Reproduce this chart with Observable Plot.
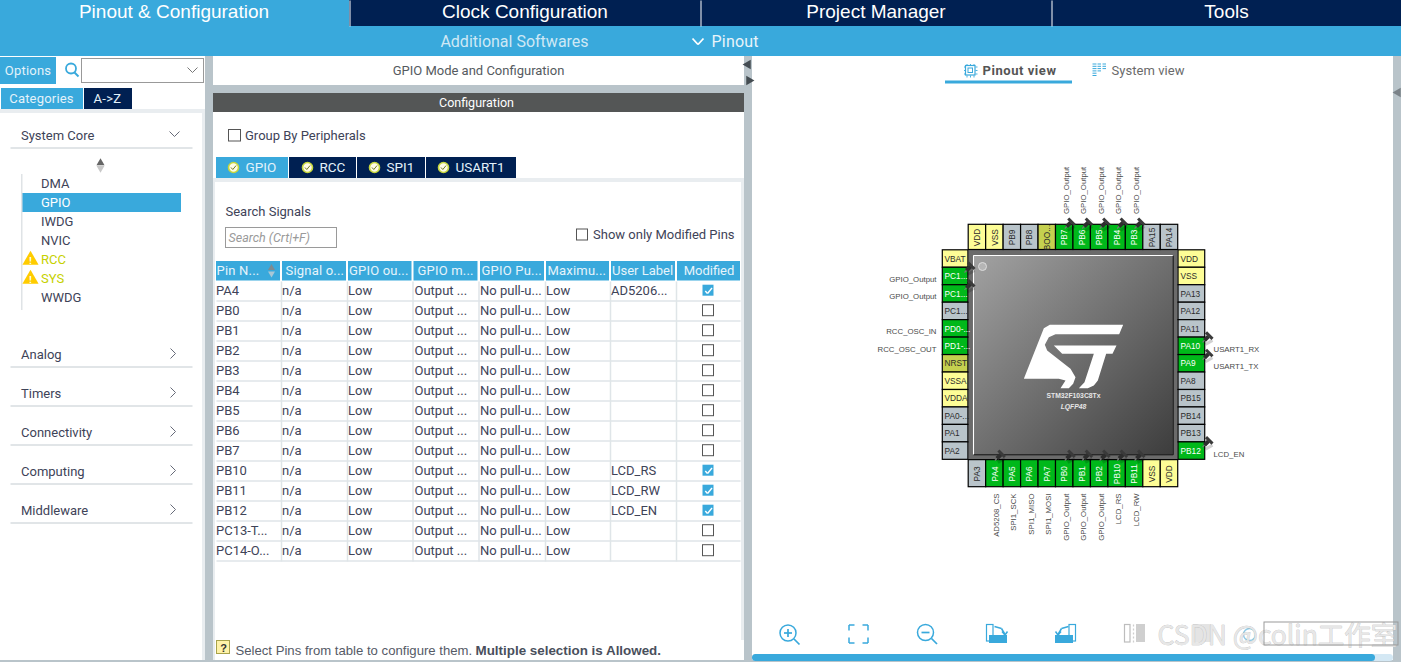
<!DOCTYPE html>
<html><head><meta charset="utf-8">
<script src="https://cdn.jsdelivr.net/npm/d3@7"></script>
<script src="https://cdn.jsdelivr.net/npm/@observablehq/plot@0.6"></script>
<style>html,body{margin:0;padding:0;background:#b9c4ca;overflow:hidden}svg{display:block}</style>
</head><body><div id="app"></div>
<script>
// ---------- content ----------
const navTabs = ["Pinout & Configuration","Clock Configuration","Project Manager","Tools"];
const subTabs = ["Additional Softwares","Pinout"];
const peripheralTabs = ["GPIO","RCC","SPI1","USART1"];
const systemCore = ["DMA","GPIO","IWDG","NVIC","RCC","SYS","WWDG"];
const menuGroups = ["Analog","Timers","Connectivity","Computing","Middleware"];
const tableHeaders = ["Pin N...","Signal o...","GPIO ou...","GPIO m...","GPIO Pu...","Maximu...","User Label","Modified"];
const pinNames = ["PA4","PB0","PB1","PB2","PB3","PB4","PB5","PB6","PB7","PB10","PB11","PB12","PC13-T...","PC14-O..."];
const signalOn = "n/a", outLevel = "Low", outMode = "Output ...", pull = "No pull-u...", speed = "Low";
const userLabels = ["AD5206...","","","","","","","","","LCD_RS","LCD_RW","LCD_EN","",""];
const modified = [1,0,0,0,0,0,0,0,0,1,1,1,0,0];
const topPins = ["VDD","VSS","PB9","PB8","BOO...","PB7","PB6","PB5","PB4","PB3","PA15","PA14"];
const topKinds = "yyggoGGGGGgg";
const topSignals = ["","","","","","GPIO_Output","GPIO_Output","GPIO_Output","GPIO_Output","GPIO_Output","",""];
const leftPins = ["VBAT","PC1...","PC1...","PC1...","PD0-...","PD1-...","NRST","VSSA","VDDA","PA0-...","PA1","PA2"];
const leftKinds = "yGGgGGoyyggg";
const leftSignals = ["","GPIO_Output","GPIO_Output","","RCC_OSC_IN","RCC_OSC_OUT","","","","","",""];
const rightPins = ["VDD","VSS","PA13","PA12","PA11","PA10","PA9","PA8","PB15","PB14","PB13","PB12"];
const rightKinds = "yygggGGggggG";
const rightSignals = ["","","","","","USART1_RX","USART1_TX","","","","","LCD_EN"];
const bottomPins = ["PA3","PA4","PA5","PA6","PA7","PB0","PB1","PB2","PB10","PB11","VSS","VDD"];
const bottomKinds = "gGGGGGGGGGyy";
const bottomSignals = ["","AD5208_CS","SPI1_SCK","SPI1_MISO","SPI1_MOSI","GPIO_Output","GPIO_Output","GPIO_Output","LCD_RS","LCD_RW","",""];
const pinnedTop = [5,6,7,8,9], pinnedLeft = [1,2], pinnedRight = [5,6,11], pinnedBottom = [1,5,6,7,8,9];
const logoS = [[118,28],[338,28],[326,56],[135,56],[115,65],[103,88],[110,105],[180,160],[195,185],[188,205],[175,218],[150,218],[165,195],[145,190],[40,190],[100,38]];
const logoT = [[130,90],[318,90],[306,115],[287,115],[262,195],[250,210],[232,218],[205,218],[222,200],[250,115],[155,115]];

// ---------- style ----------
const BLUE="#39a9dc", NAVY="#002052", GREY="#b9c4ca", PALE="#e9edf0", INK="#3e4358", RULE="#c3cbd0";
const UI="Roboto, sans-serif", ARIAL="'Liberation Sans', sans-serif";
const kindFill={y:"#fdfd96",g:"#b9c4ca",o:"#c5d04f",G:"#00b81a"};

// ---------- helpers ----------
const R=(rows,o={})=>Plot.rect(rows,{x1:d=>d[0],y1:d=>d[1],x2:d=>d[2],y2:d=>d[3],fill:d=>d[4],...o});
const spaced=px=>(i,s,v,dim,c,next)=>{const g=next(i,s,v,dim,c);g.style.letterSpacing=px+"px";return g;};
const T=(rows,o={})=>{const {spacing,...rest}=o;return Plot.text(rows,{x:d=>d[1],y:d=>d[2],text:d=>d[0],fontFamily:UI,fontSize:13,fill:INK,textAnchor:"start",...(spacing?{render:spaced(spacing)}:{}),...rest});};
const L=(rows,o={})=>Plot.link(rows,{x1:d=>d[0],y1:d=>d[1],x2:d=>d[2],y2:d=>d[3],stroke:BLUE,strokeWidth:1.3,...o});
const D=(rows,o={})=>Plot.dot(rows,{x:d=>d[0],y:d=>d[1],...o});

const marks=[];
// ---------- panels ----------
marks.push(R([
 [0,0,1401,662,GREY],
 [0,0,1401,56,BLUE],
 [349,0,1401,26,NAVY],
 [0,56,205,113,"#ffffff"],
 [0,109,205,113,PALE],
 [0,113,202,660,"#ffffff"],
 [202,113,205,660,PALE],
 [213,56,744,85,"#ffffff"],
 [213,93,744,112,"#545656"],
 [213,112,744,660,"#ffffff"],
 [213,178,744,182,PALE],
 [213,182,215,660,PALE],
 [741,182,744,640,PALE],
 [752,56,1393,660,"#ffffff"],
 [0,57,56,84,BLUE],
 [1,88,83,109,BLUE],
 [84,88,132,109,NAVY],
 [22,193,181,212,BLUE],
 [216,157,288,178,BLUE],
 [289,157,356,178,NAVY],
 [357,157,425,178,NAVY],
 [426,157,516,178,NAVY],
 [945,80.5,1072,83.5,BLUE],
 [21,174,22.5,310,"#dfe3e6"]
]));
marks.push(L([[349.5,0,349.5,26],[700.5,0,700.5,26],[1051.5,0,1051.5,26]],{stroke:"#ffffff",strokeWidth:1}));
marks.push(T(navTabs.map((t,i)=>[t,[173.5,524.5,875.5,1226][i],11.5]),{fontFamily:ARIAL,fontSize:19,fill:"#ffffff",textAnchor:"middle"}));
marks.push(T([[subTabs[0],514,41]],{fontSize:16,fill:"#cfe8f5",textAnchor:"middle"}));
marks.push(T([[subTabs[1],711,41]],{fontSize:16,fill:"#e8f4fa",spacing:0.2}));
marks.push(L([[692,38,697.5,44],[697.5,44,703,38]],{stroke:"#ffffff",strokeWidth:1.8}));

// left panel header
marks.push(T([["Options",27.5,70.5]],{fontSize:13,fill:"#e3f2fa",textAnchor:"middle",spacing:0.2}));
marks.push(T([["Categories",41,98.5]],{fontSize:13,fill:"#e3f2fa",textAnchor:"middle",spacing:0.2}));
marks.push(T([["A->Z",107,98.5]],{fontSize:13,fill:"#e3f2fa",textAnchor:"middle",spacing:0.3}));
marks.push(D([[70.5,68]],{r:5,stroke:BLUE,strokeWidth:1.8,fill:"none"}));
marks.push(L([[74,72,78,76]],{strokeWidth:2}));
marks.push(R([[81.5,58.5,203.5,82.5,"#ffffff"]],{stroke:"#999999",strokeWidth:1}));
marks.push(L([[187,67,192,72],[192,72,197,67]],{stroke:"#777777",strokeWidth:1}));

// system-core tree
marks.push(T([["System Core",20.5,135]]));
marks.push(L([[10,147.5,192,147.5]],{stroke:RULE,strokeWidth:1}));
marks.push(L([[169,131,174,136],[174,136,179,131]],{stroke:"#666a78",strokeWidth:1}));
marks.push(D([[100,162.5]],{symbol:"triangle",r:3,fill:"#666666"}));
marks.push(D([[100,167.5]],{symbol:"triangle",r:3,fill:"#c8c8c8",rotate:180}));
marks.push(T(systemCore.map((t,i)=>[t,40.5,183+i*19]),{
  fill:d=>d[0]==="GPIO"?"#ffffff":(d[0]==="RCC"||d[0]==="SYS")?"#c6d100":INK}));
marks.push(D([[30,259.5],[30,278.5]],{symbol:"triangle",r:6,fill:"#ffcc00"}));
marks.push(T([["!",30,260.5],["!",30,279.5]],{fontSize:9,fontWeight:700,fill:"#ffffff",textAnchor:"middle"}));
menuGroups.forEach((g,i)=>{
  const y=354+i*39;
  marks.push(T([[g,20.5,y]]));
  marks.push(L([[10,y+12.5,192,y+12.5]],{stroke:RULE,strokeWidth:1}));
  marks.push(L([[170,y-6,175,y-1],[175,y-1,170,y+4]],{stroke:"#666a78",strokeWidth:1}));
});

// centre panel header
marks.push(T([["GPIO Mode and Configuration",478,70.5]],{fontSize:13,fill:"#555a60",textAnchor:"middle"}));
marks.push(T([["Configuration",476,102.5]],{fontSize:12.5,fill:"#ffffff",textAnchor:"middle"}));
marks.push(R([[228.5,129.5,240.5,141,"#ffffff"],[576.5,229,587.5,240,"#ffffff"]],{stroke:"#555555",strokeWidth:1}));
marks.push(T([["Group By Peripherals",244.5,135.5],["Search Signals",225,211.5],["Show only Modified Pins",592.5,234.5]],{fontSize:13}));
marks.push(R([[225.5,227.5,336.5,247.5,"#ffffff"]],{stroke:"#9a9a9a",strokeWidth:1}));
marks.push(T([["Search (Crt|+F)",228,237.5]],{fontSize:12.5,fontStyle:"italic",fill:"#9a9a9a"}));
marks.push(T(peripheralTabs.map((t,i)=>[t,[245,319,386,455][i],167.5]),{fontSize:13.5,fill:"#e3f2fa"}));
const tabIcons=[233,307,374,443];
marks.push(D(tabIcons.map(x=>[x,167]),{r:5,fill:"#fffbe6",stroke:"#c6d63c",strokeWidth:1.6}));
marks.push(L(tabIcons.flatMap(x=>[[x-2.5,167,x-0.7,169],[x-0.7,169,x+2.6,165]]),{stroke:"#6f7a20",strokeWidth:1}));

// ---------- table ----------
const colX=[[216,280],[282,346],[348,411.5],[413.5,477.5],[480,544],[546,609],[611,675],[677,740]];
const headY=[261,280.5], rowH=20, rowTop=281;
marks.push(R(colX.map(c=>[c[0],headY[0],c[1],headY[1],BLUE])));
marks.push(L(pinNames.map((_,i)=>[216,rowTop+(i+1)*rowH-0.5,740,rowTop+(i+1)*rowH-0.5]),{stroke:"#dfe5e8",strokeWidth:1.3}));
marks.push(L(colX.slice(0,7).map(c=>[c[1]+1,rowTop,c[1]+1,rowTop+pinNames.length*rowH]),{stroke:"#dfe5e8",strokeWidth:1.5}));
const headX=[216,285,348.5,417,481,547,611.5,708.5];
marks.push(T(tableHeaders.slice(0,6).map((t,i)=>[t,headX[i],270.5]),{fontSize:13,fill:"#e6f4fb",spacing:0.2}));
marks.push(T([[tableHeaders[6],headX[6],270.5]],{fontSize:13,fill:"#e6f4fb"}));
marks.push(T([[tableHeaders[7],headX[7],270.5]],{fontSize:13,fill:"#e6f4fb",textAnchor:"middle"}));
marks.push(D([[271,267.5]],{symbol:"triangle",r:2.6,fill:"#7d8a90"}));
marks.push(D([[271,273]],{symbol:"triangle",r:2.6,fill:"#a9c7d6",rotate:180}));
const cellX=[215.5,281.5,347.5,414,479.5,545.5,610.5];
const rowCols=pinNames.map((p,i)=>[p,signalOn,outLevel,outMode,pull,speed,userLabels[i]]);
marks.push(T(rowCols.flatMap((cols,i)=>cols.map((t,c)=>[t,cellX[c],rowTop+9.5+i*rowH])),{fontSize:13}));
const boxCells=modified.map((m,i)=>[702.5,rowTop+3.7+i*rowH,713.5,rowTop+14.7+i*rowH,m?BLUE:"#ffffff"]);
marks.push(R(boxCells.filter((_,i)=>!modified[i]),{stroke:"#555555",strokeWidth:1}));
marks.push(R(boxCells.filter((_,i)=>modified[i])));
marks.push(L(modified.flatMap((m,i)=>m?[[704.8,rowTop+9.5+i*rowH,707,rowTop+12+i*rowH],[707,rowTop+12+i*rowH,711.5,rowTop+6.5+i*rowH]]:[]),{stroke:"#ffffff",strokeWidth:1.4}));

// footer hint
marks.push(R([[216.5,640.5,229.5,653.5,"#fff2a8"]],{stroke:"#a8a24a",strokeWidth:1}));
marks.push(T([["?",223,647.5]],{fontFamily:ARIAL,fontWeight:700,fontSize:11,fill:"#333333",textAnchor:"middle"}));
marks.push(T([["Select Pins from table to configure them.",235,650.5]],{fontFamily:ARIAL,fontSize:13.15,fill:"#555a66"}));
marks.push(T([["Multiple selection is Allowed.",475,650.5]],{fontFamily:ARIAL,fontSize:13.4,fontWeight:700,fill:"#4a4f5c"}));

// collapse arrows
marks.push(D([[747.5,64]],{symbol:"triangle",r:3.5,fill:"#444c52",rotate:-90}));
marks.push(D([[748.5,80]],{symbol:"triangle",r:3.5,fill:"#444c52",rotate:90}));
marks.push(D([[1397.5,92]],{symbol:"triangle",r:3.5,fill:"#7a8288",rotate:-90}));

// ---------- view tabs ----------
marks.push(R([[965.5,65.5,975,75,"#ffffff"]],{stroke:BLUE,strokeWidth:1.2}));
marks.push(R([[968,68,972.5,72.5,"#ffffff"]],{stroke:BLUE,strokeWidth:1}));
marks.push(L([0,1,2].flatMap(k=>{const p=66.5+k*3.5;return [[963.5,p,965.5,p],[975,p,977,p],[p+900,63.5,p+900,65.5],[p+900,75,p+900,77]];}),{strokeWidth:0.9}));
marks.push(T([["Pinout view",982,70.5]],{fontSize:13,fontWeight:700,fill:"#555555",spacing:0.55}));
marks.push(L([0,1,2,3,4,5].flatMap(k=>[[1092,63.5+k*2.3,1096,63.5+k*2.3]]).concat(
  [0,1,2,3].flatMap(k=>[[1097,63.5+k*2.3,1100.5,63.5+k*2.3]]),[0,1,2].flatMap(k=>[[1102,63.5+k*2.3,1105.5,63.5+k*2.3]])),{strokeWidth:1}));
marks.push(T([["System view",1111,70.5]],{fontSize:13,fill:"#6a6a6a",spacing:0.05}));

// ---------- chip ----------
const pitch=17.46, X0=968.2, Y0=249.8, BW=26;
const cx=i=>X0+(i+0.5)*pitch, cy=i=>Y0+(i+0.5)*pitch;
const X1=X0+12*pitch, Y1=Y0+12*pitch;
const pinColour=k=>kindFill[k];
const ink=k=>k==="G"?"#ffffff":"#2b2b2b";
marks.push(R([[X0,Y0-0.3,X1,Y1+0.3,"#6b6b6b"]]));
marks.push(R([[973,255,1172.7,454.3]],{fill:"url(#chipG)"}));
marks.push(L([[973,255,1172.7,255],[973,255,973,454.3]],{stroke:"#ffffff",strokeWidth:1.1}));
marks.push(L([[1172.7,255,1172.7,454.3],[973,454.3,1172.7,454.3]],{stroke:"#111111",strokeWidth:1}));
marks.push(D([[982,266]],{r:4,fill:"#b5b5b5",stroke:"#dddddd",strokeWidth:1}));
const lx=p=>1010+p[0]/3, ly=p=>315+p[1]/3;
marks.push(Plot.line(logoS,{x:lx,y:ly,fill:"#ffffff",stroke:"none"}));
marks.push(Plot.line(logoT,{x:lx,y:ly,fill:"#ffffff",stroke:"none"}));
marks.push(T([["STM32F103C8Tx",1073,395.5]],{fontFamily:ARIAL,fontSize:6.8,fontWeight:700,fill:"#e6e6e6",textAnchor:"middle"}));
marks.push(T([["LQFP48",1073,406.5]],{fontFamily:ARIAL,fontSize:6.8,fontWeight:700,fontStyle:"italic",fill:"#e6e6e6",textAnchor:"middle"}));
const pinStroke={stroke:"#000000",strokeWidth:1.2};
marks.push(R(topPins.map((_,i)=>[X0+i*pitch,224.3,X0+(i+1)*pitch,Y0-0.3,pinColour(topKinds[i])]),pinStroke));
marks.push(R(bottomPins.map((_,i)=>[X0+i*pitch,Y1+0.3,X0+(i+1)*pitch,486.7,pinColour(bottomKinds[i])]),pinStroke));
marks.push(R(leftPins.map((_,i)=>[942.3,Y0+i*pitch,X0-0.3,Y0+(i+1)*pitch,pinColour(leftKinds[i])]),pinStroke));
marks.push(R(rightPins.map((_,i)=>[X1+0.3,Y0+i*pitch,X1+BW+1,Y0+(i+1)*pitch,pinColour(rightKinds[i])]),pinStroke));
const pinLabel={fontFamily:ARIAL,fontSize:8.3,fill:d=>d[3]};
marks.push(T(topPins.map((t,i)=>[t,cx(i),237,ink(topKinds[i])]),{...pinLabel,rotate:-90,textAnchor:"middle"}));
marks.push(T(bottomPins.map((t,i)=>[t,cx(i),473.5,ink(bottomKinds[i])]),{...pinLabel,rotate:-90,textAnchor:"middle"}));
marks.push(T(leftPins.map((t,i)=>[t,944,cy(i),ink(leftKinds[i])]),pinLabel));
marks.push(T(rightPins.map((t,i)=>[t,1180,cy(i),ink(rightKinds[i])]),pinLabel));
const sig={fontFamily:ARIAL,fontSize:7.8,fill:"#4a4a4a"};
const signalY=[0,279,296,0,331,349];
marks.push(T(leftSignals.map((t,i)=>[t,936,signalY[i]]).filter(d=>d[0]),{...sig,textAnchor:"end"}));
marks.push(T(rightSignals.map((t,i)=>[t,1213,cy(i)+3]).filter(d=>d[0]),sig));
marks.push(T(topSignals.map((t,i)=>[t,cx(i)+1.5,213.5]).filter(d=>d[0]),{...sig,rotate:-90}));
marks.push(T(bottomSignals.map((t,i)=>[t,cx(i)+1.5,493]).filter(d=>d[0]),{...sig,rotate:-90,textAnchor:"end"}));
// push-pin markers
const tips=[...pinnedTop.map(i=>[cx(i),228]),...pinnedBottom.map(i=>[cx(i),460]),
  ...pinnedLeft.map(i=>[964,cy(i)-4]),...pinnedRight.map(i=>[1202,cy(i)-4])];
marks.push(L(tips.map(([x,y])=>[x+3,y+2,x+10,y-2]),{stroke:"#000000",strokeOpacity:0.18,strokeWidth:3}));
marks.push(L(tips.map(([x,y])=>[x,y,x+3,y-3]),{stroke:"#777777",strokeWidth:1.2}));
marks.push(L(tips.map(([x,y])=>[x+2,y-2,x+6,y-6]),{stroke:"#2e2e2e",strokeWidth:4}));
marks.push(L(tips.map(([x,y])=>[x+3.5,y-10,x+10,y-3.5]),{stroke:"#3a3a3a",strokeWidth:3}));

// ---------- toolbar ----------
const tool={strokeWidth:1.5};
marks.push(D([[787.5,632.5],[925,632]],{r:8,stroke:BLUE,strokeWidth:1.5,fill:"none"}));
marks.push(L([[793.5,638.5,799,644],[931,638,936.5,643.5],[783.5,632.5,791.5,632.5],[787.5,628.5,787.5,636.5],[921,632,929,632]],{strokeWidth:1.7}));
marks.push(L([[848.5,630,848.5,624.5],[848.5,624.5,854,624.5],[862,624.5,867.5,624.5],[867.5,624.5,867.5,630],[848.5,637,848.5,642.5],[848.5,642.5,854,642.5],[862,642.5,867.5,642.5],[867.5,637,867.5,642.5]],tool));
marks.push(R([[986.5,624.5,993,641,"#ffffff"],[1069,624.5,1075.5,641,"#ffffff"]],{stroke:BLUE,strokeWidth:1.2}));
marks.push(R([[989,635,1007,643,BLUE],[1055,635,1073,643,BLUE]]));
marks.push(L([[994,626,1001,628],[1001,628,1004.5,634],[1068,626,1061,628],[1061,628,1057.5,634],[1001.5,631,1004.5,634.5],[1004.5,634.5,1007,631],[1060.5,631,1057.5,634.5],[1057.5,634.5,1055,631]],tool));
marks.push(R([[1124.5,624.5,1130,642,"#ffffff"]],{stroke:"#bdbdbd",strokeWidth:1.2}));
marks.push(R([[1136,624,1145,642,"#cfcfcf"],[1193,624,1211,642,"#e4e4e4"]]));
marks.push(L([[1133,624,1133,642]],{stroke:"#cfcfcf",strokeDasharray:"2 2"}));
marks.push(D([[1249,634]],{r:6,stroke:"#8fc9e6",strokeWidth:1.5,fill:"none"}));
marks.push(T([["CSDN @colin工作室",1157,636]],{fontFamily:"'Noto Sans CJK SC', 'Liberation Sans', sans-serif",fontSize:26.5,fill:"#e6e6e6",stroke:"#b0b0b0",strokeWidth:0.5,opacity:0.95}));
marks.push(R([[1264,622,1398,645]],{fill:"none",stroke:"#9a9a9a",strokeWidth:1}));

// scrollbar
marks.push(Plot.rect([[752,654,1393,661]],{x1:d=>d[0],y1:d=>d[1],x2:d=>d[2],y2:d=>d[3],fill:"#d4e8f4",rx:3.5}));
marks.push(Plot.rect([[752,654,1375,661]],{x1:d=>d[0],y1:d=>d[1],x2:d=>d[2],y2:d=>d[3],fill:BLUE,rx:3.5}));

const plot=Plot.plot({width:1401,height:662,margin:0,
  x:{domain:[0,1401],range:[0,1401],axis:null},
  y:{domain:[0,662],range:[0,662],axis:null},
  color:{type:"identity"},
  style:{background:GREY,overflow:"hidden"},
  marks});
const NS="http://www.w3.org/2000/svg";
const defs=document.createElementNS(NS,"defs");
const g=document.createElementNS(NS,"linearGradient");
g.setAttribute("id","chipG");g.setAttribute("x1","0");g.setAttribute("y1","0");g.setAttribute("x2","1");g.setAttribute("y2","1");
[["0","#a2a2a2"],["1","#3d3d3d"]].forEach(([o,c])=>{const s=document.createElementNS(NS,"stop");s.setAttribute("offset",o);s.setAttribute("stop-color",c);g.appendChild(s);});
defs.appendChild(g);plot.insertBefore(defs,plot.firstChild);
document.getElementById("app").appendChild(plot);
</script></body></html>
